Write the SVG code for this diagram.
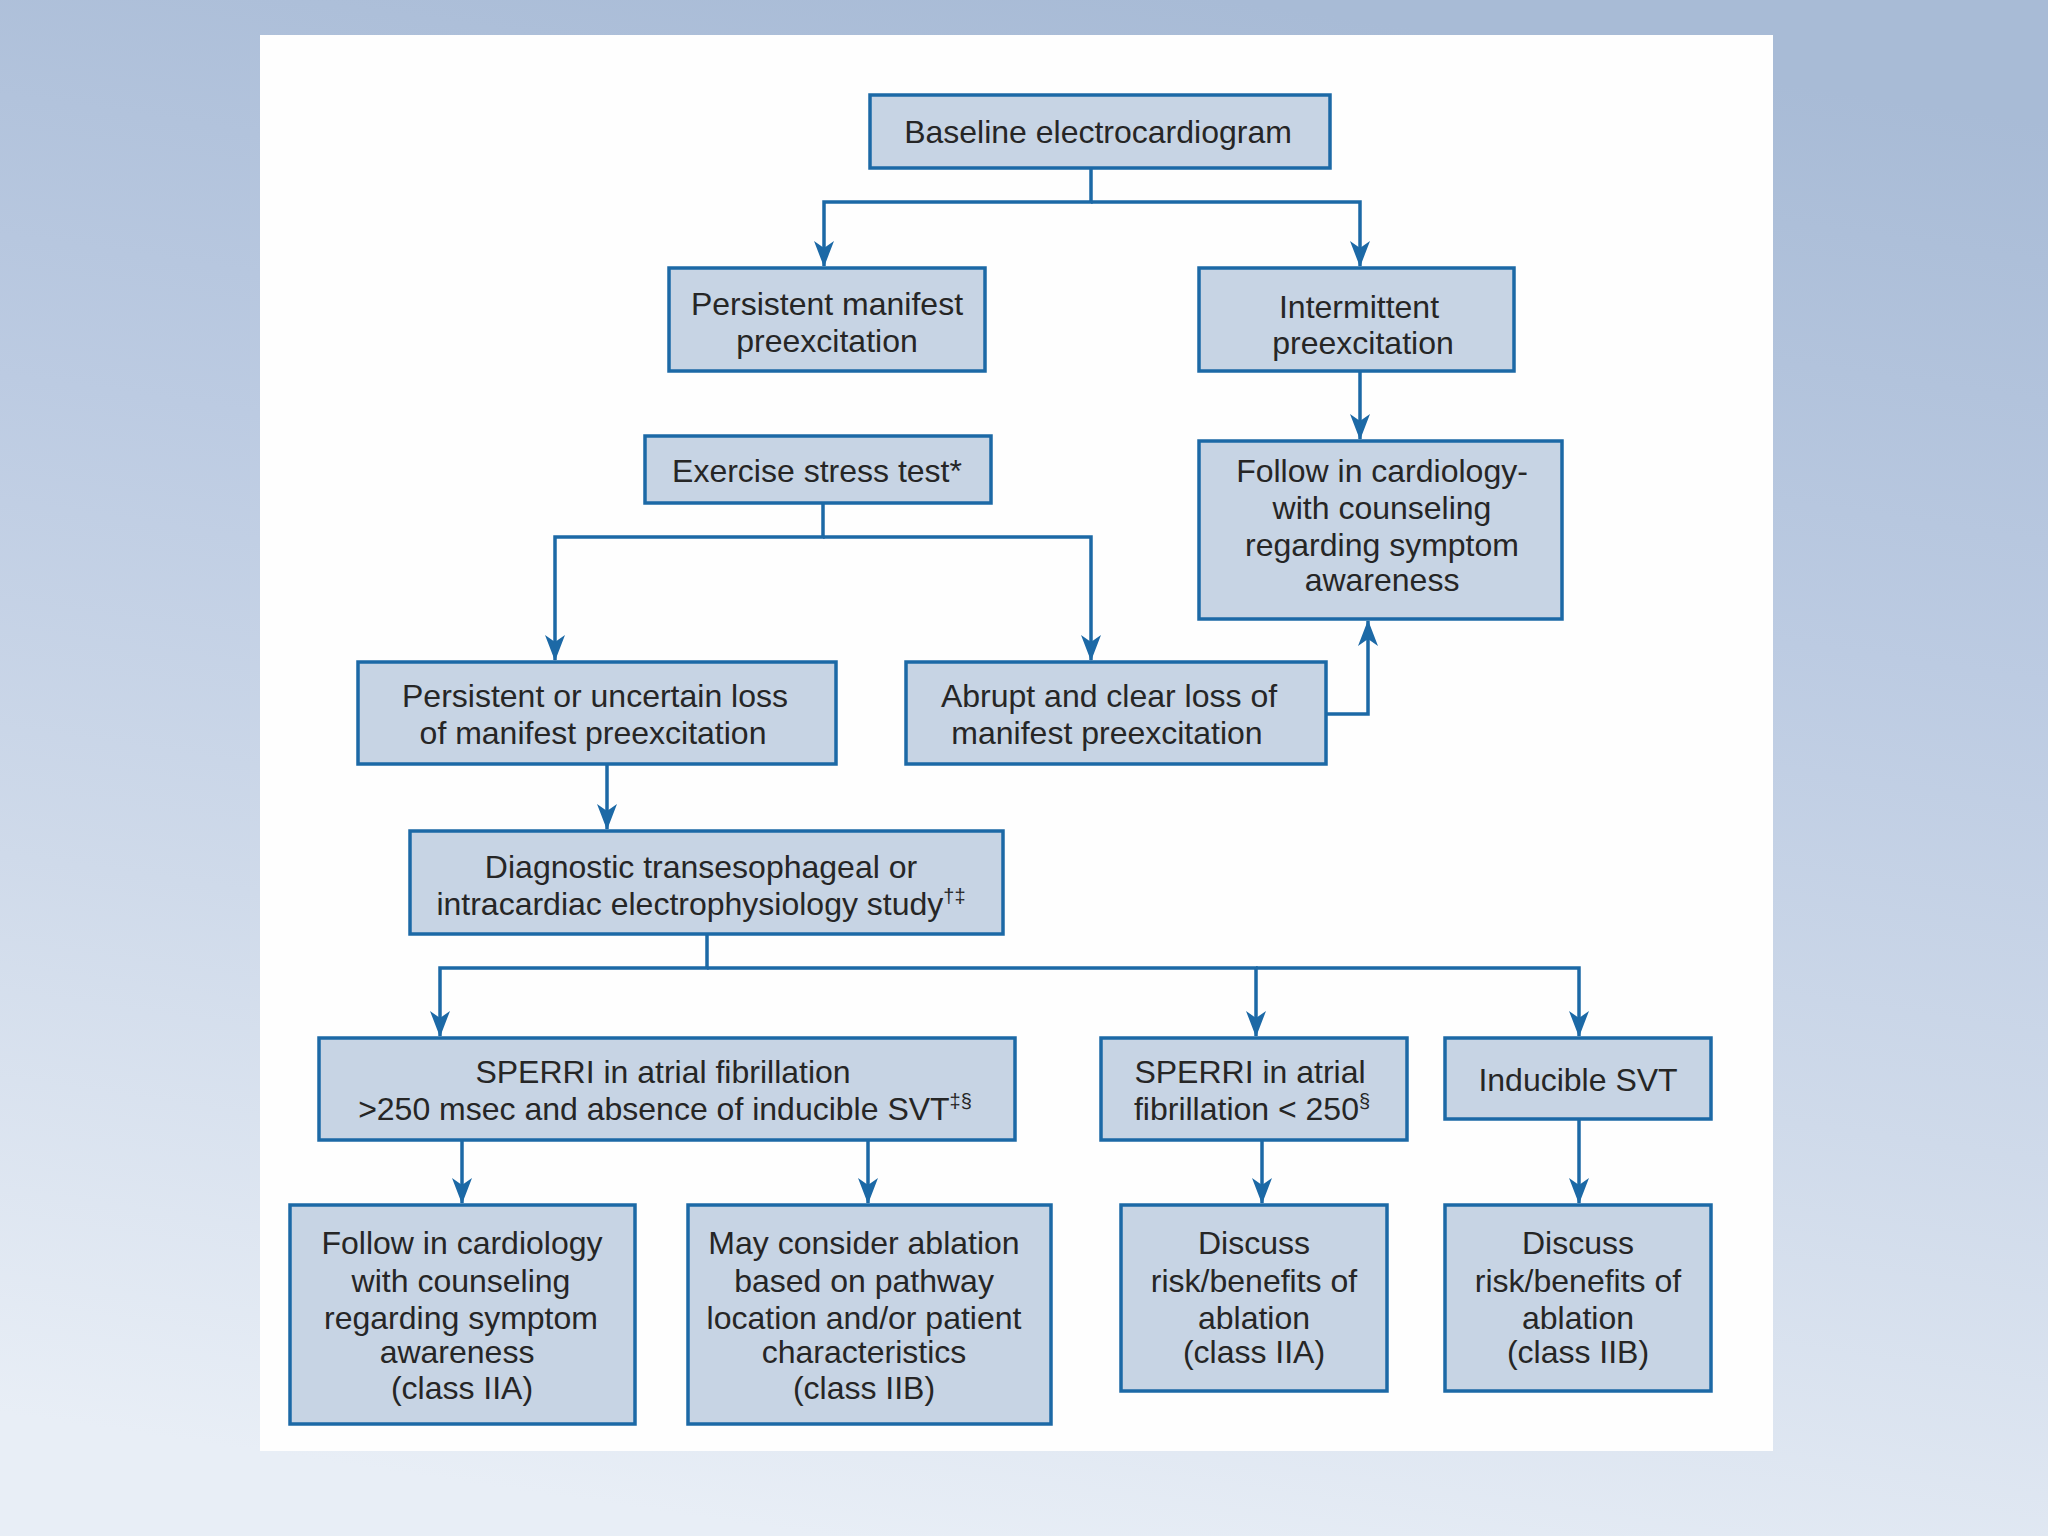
<svg xmlns="http://www.w3.org/2000/svg" width="2048" height="1536" viewBox="0 0 2048 1536">
<defs>
<linearGradient id="bg" x1="0.6" y1="0" x2="0.4" y2="1">
<stop offset="0" stop-color="#a8bbd6"/>
<stop offset="0.35" stop-color="#bccbe2"/>
<stop offset="0.65" stop-color="#cfdaea"/>
<stop offset="1" stop-color="#e8eef6"/>
</linearGradient>
<marker id="ah" markerUnits="userSpaceOnUse" markerWidth="26" markerHeight="20" viewBox="0 0 26 20" refX="25" refY="10" orient="auto">
<path d="M0,0 L26,10 L0,20 L7,10 Z" fill="#1c69a6"/>
</marker>
<style>
.box{fill:#c7d4e4;stroke:#1c69a6;stroke-width:3.5}
.t{font-family:"Liberation Sans",Arial,sans-serif;font-size:32px;fill:#262626;text-anchor:middle}
.c{fill:none;stroke:#1c69a6;stroke-width:3.5;marker-end:url(#ah)}
.sup{font-size:20px}
</style>
</defs>
<rect x="0" y="0" width="2048" height="1536" fill="url(#bg)"/>
<rect x="260" y="35" width="1513" height="1416" fill="#fefefe"/>

<g id="connectors">
<path class="c" d="M1091,168 V202 H824 V266"/>
<path class="c" d="M1091,202 H1360 V266"/>
<path class="c" d="M1360,371 V439"/>
<path class="c" d="M823,503 V537 H555 V660"/>
<path class="c" d="M823,537 H1091 V660"/>
<path class="c" d="M1326,714 H1368 V621"/>
<path class="c" d="M607,764 V829"/>
<path class="c" d="M707,934 V968 H440 V1036"/>
<path class="c" d="M707,968 H1256 V1036"/>
<path class="c" d="M1256,968 H1579 V1036"/>
<path class="c" d="M462,1140 V1203"/>
<path class="c" d="M868,1140 V1203"/>
<path class="c" d="M1262,1140 V1203"/>
<path class="c" d="M1579,1119 V1203"/>
</g>

<g id="baseline">
<rect class="box" x="870" y="95" width="460" height="73"/>
<text class="t" x="1098" y="143">Baseline electrocardiogram</text>
</g>
<g id="persistent-manifest">
<rect class="box" x="669" y="268" width="316" height="103"/>
<text class="t" x="827" y="315">Persistent manifest</text>
<text class="t" x="827" y="352">preexcitation</text>
</g>
<g id="intermittent">
<rect class="box" x="1199" y="268" width="315" height="103"/>
<text class="t" x="1359" y="318">Intermittent</text>
<text class="t" x="1363" y="354">preexcitation</text>
</g>
<g id="exercise">
<rect class="box" x="645" y="436" width="346" height="67"/>
<text class="t" x="817" y="482">Exercise stress test*</text>
</g>
<g id="follow-top">
<rect class="box" x="1199" y="441" width="363" height="178"/>
<text class="t" x="1382" y="482">Follow in cardiology-</text>
<text class="t" x="1382" y="519">with counseling</text>
<text class="t" x="1382" y="556">regarding symptom</text>
<text class="t" x="1382" y="591">awareness</text>
</g>
<g id="persistent-uncertain">
<rect class="box" x="358" y="662" width="478" height="102"/>
<text class="t" x="595" y="707">Persistent or uncertain loss</text>
<text class="t" x="593" y="744">of manifest preexcitation</text>
</g>
<g id="abrupt">
<rect class="box" x="906" y="662" width="420" height="102"/>
<text class="t" x="1109" y="707">Abrupt and clear loss of</text>
<text class="t" x="1107" y="744">manifest preexcitation</text>
</g>
<g id="diagnostic">
<rect class="box" x="410" y="831" width="593" height="103"/>
<text class="t" x="701" y="878">Diagnostic transesophageal or</text>
<text class="t" x="701" y="915">intracardiac electrophysiology study<tspan class="sup" dy="-12">†‡</tspan></text>
</g>
<g id="sperri-gt250">
<rect class="box" x="319" y="1038" width="696" height="102"/>
<text class="t" x="663" y="1083">SPERRI in atrial fibrillation</text>
<text class="t" x="665" y="1120">&gt;250 msec and absence of inducible SVT<tspan class="sup" dy="-12">‡§</tspan></text>
</g>
<g id="sperri-lt250">
<rect class="box" x="1101" y="1038" width="306" height="102"/>
<text class="t" x="1250" y="1083">SPERRI in atrial</text>
<text class="t" x="1252" y="1120">fibrillation &lt; 250<tspan class="sup" dy="-12">§</tspan></text>
</g>
<g id="inducible">
<rect class="box" x="1445" y="1038" width="266" height="81"/>
<text class="t" x="1578" y="1091">Inducible SVT</text>
</g>
<g id="follow-bottom">
<rect class="box" x="290" y="1205" width="345" height="219"/>
<text class="t" x="462" y="1254">Follow in cardiology</text>
<text class="t" x="461" y="1292">with counseling</text>
<text class="t" x="461" y="1329">regarding symptom</text>
<text class="t" x="457" y="1363">awareness</text>
<text class="t" x="462" y="1399">(class IIA)</text>
</g>
<g id="may-consider">
<rect class="box" x="688" y="1205" width="363" height="219"/>
<text class="t" x="864" y="1254">May consider ablation</text>
<text class="t" x="864" y="1292">based on pathway</text>
<text class="t" x="864" y="1329">location and/or patient</text>
<text class="t" x="864" y="1363">characteristics</text>
<text class="t" x="864" y="1399">(class IIB)</text>
</g>
<g id="discuss-iia">
<rect class="box" x="1121" y="1205" width="266" height="186"/>
<text class="t" x="1254" y="1254">Discuss</text>
<text class="t" x="1254" y="1292">risk/benefits of</text>
<text class="t" x="1254" y="1329">ablation</text>
<text class="t" x="1254" y="1363">(class IIA)</text>
</g>
<g id="discuss-iib">
<rect class="box" x="1445" y="1205" width="266" height="186"/>
<text class="t" x="1578" y="1254">Discuss</text>
<text class="t" x="1578" y="1292">risk/benefits of</text>
<text class="t" x="1578" y="1329">ablation</text>
<text class="t" x="1578" y="1363">(class IIB)</text>
</g>
</svg>
